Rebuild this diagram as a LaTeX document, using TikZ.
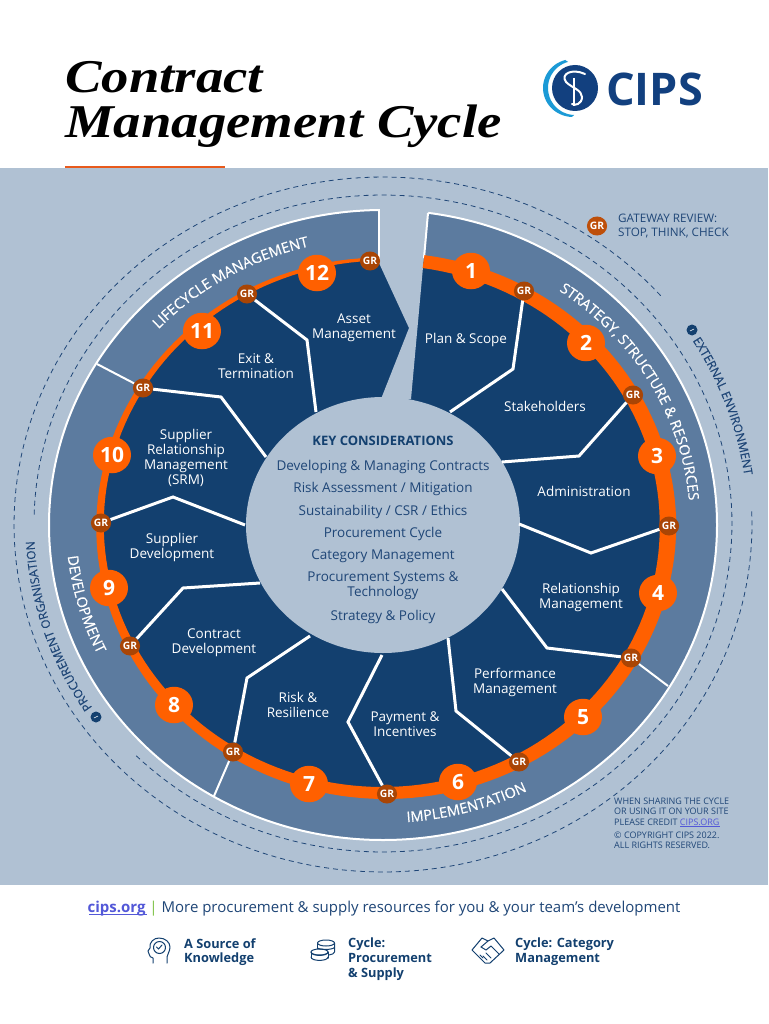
\documentclass[tikz,border=0pt]{standalone}
\usepackage{fontspec}
\setmainfont{Open Sans}
\newfontfamily\titlefont{Liberation Serif}
\newfontfamily\curvef[FakeBold=0.35]{Open Sans}
\usetikzlibrary{shapes.geometric}
\definecolor{bgc}{HTML}{B0C1D3}
\definecolor{bandc}{HTML}{5C7B9F}
\definecolor{navy}{HTML}{13406F}
\definecolor{ink}{HTML}{1F4677}
\definecolor{orng}{HTML}{FF6000}
\definecolor{grc}{HTML}{A94505}
\definecolor{grleg}{HTML}{BE4F0A}
\definecolor{linkc}{HTML}{5358D8}
\definecolor{rulec}{HTML}{E85A1C}
\definecolor{greenc}{HTML}{7CC142}
\definecolor{skyc}{HTML}{1B9AD6}
\definecolor{logoc}{HTML}{12407F}
\tikzset{
  numc/.style={ellipse,fill=orng,text=white,font=\bfseries\fontsize{21}{21}\selectfont,minimum width=38pt,minimum height=36.5pt,inner sep=0pt},
  grn/.style={ellipse,fill=grc,text=white,font=\bfseries\fontsize{10.3}{10.3}\selectfont,minimum width=20pt,minimum height=19pt,inner sep=0pt},
  div/.style={draw=white,line width=3pt,line join=miter},
  thin div/.style={draw=white,line width=2pt},
  stage/.style={text=white,align=center,font=\fontsize{13.5}{15}\selectfont,yshift=-2pt},
  keyc/.style={text=ink,align=center,font=\fontsize{13.5}{15}\selectfont,yshift=-1.5pt},
  foot/.style={text=navy,align=left,anchor=north west,inner sep=0pt,font=\bfseries\fontsize{12.8}{14.6}\selectfont},
  ico/.style={draw=navy,line width=1pt,line join=round,line cap=round,fill=none},
  dashr/.style={draw=ink,line width=0.8pt,dash pattern=on 5pt off 4pt},
  declare function={wd(\t)=\t>=0 ? 13+(82-\t)*3.5/82 : 16.5+\t*0.05;}
}
\newdimen\ltw
% name, font+colour, cx, cy, rx, ry, start angle, direction, letters
\newcommand{\curvetext}[9]{%
  \xdef\curT{#7}%
  \foreach \c [count=\i] in {#9}{%
    \setbox0=\hbox{\pgfinterruptpicture#2\c\endpgfinterruptpicture}%
    \ltw=\wd0
    \pgfmathsetmacro\hw{0.5*\ltw}%
    \pgfmathsetmacro\tm{\curT+(#8)*57.2958*\hw/veclen(#5*sin(\curT),#6*cos(\curT))}%
    \pgfmathsetmacro\tn{\tm+(#8)*57.2958*\hw/veclen(#5*sin(\tm),#6*cos(\tm))}%
    \pgfmathsetmacro\ang{atan2((#8)*#6*cos(\tm),-(#8)*#5*sin(\tm))}%
    \node[anchor=base,inner sep=0pt,rotate=\ang] (#1\i) at ({#3+#5*cos(\tm)},{#4-#6*sin(\tm)}) {#2\c};%
    \xdef\curT{\tn}%
  }%
}
\begin{document}
\begin{tikzpicture}[x=1pt,y=-1pt]
\useasboundingbox (0,0) rectangle (768,1024);
\fill[white] (0,0) rectangle (768,1024);
\fill[bgc] (0,168) rectangle (768,885);
% title
\node[anchor=base west,inner sep=0pt,xscale=1.165,font=\titlefont\bfseries\itshape\fontsize{47}{47}\selectfont] (t1) at (65,93) {Contract};
\node[anchor=base west,inner sep=0pt,xscale=1.165,font=\titlefont\bfseries\itshape\fontsize{47}{47}\selectfont] (t2) at (65,138) {Management Cycle};
\draw[rulec,line width=2pt] (65,167) -- (225,167);
% logo
\fill[skyc] plot[domain=105:268,samples=30,variable=\t] ({573+30*cos(\t)},{88-29*sin(\t)}) -- plot[domain=268:105,samples=30,variable=\t] ({575+27*cos(\t)},{88-27*sin(\t)}) -- cycle;
\fill[logoc] (575,88) ellipse [x radius=23,y radius=23];
\draw[white,line width=2pt,line cap=round] (585,74) .. controls (572,68) and (560,74) .. (566,82) .. controls (572,88) and (582,90) .. (582,97) .. controls (582,104) and (575,106) .. (572,104);
\draw[white,line width=1.5pt] (574,78) -- (574,106);
\node[anchor=west,inner sep=0pt,text=logoc,font=\bfseries\fontsize{45}{45}\selectfont] (logo) at (606,89) {CIPS};
% dashed rings
\draw[dashr] plot[domain=41.2:362.6,samples=180,variable=\t] ({383+369*cos(\t)},{524.5-347.5*sin(\t)});
\draw[dashr] plot[domain=225:538.6,samples=180,variable=\t] ({383+349*cos(\t)},{523.5-328.5*sin(\t)});
% band
\fill[bandc,draw=white,line width=2pt] (383,525) ellipse [x radius=334,y radius=315];
% blue field
\fill[navy] (384,526) ellipse [x radius=284,y radius=267];
% notch
\fill[bgc] (379,200) -- (379,263) -- (409,328) -- (381,399) -- (411,399) -- (423,267) -- (428,213) -- (428,200) -- cycle;
\draw[white,line width=2pt] (379,209) -- (379,262);
\draw[white,line width=2pt] (428,213) -- (424,258);
% centre disc
\fill[bgc] (383,525) ellipse [x radius=137,y radius=128];
% orange ring
\fill[orng] plot[domain=82:-267,samples=175,variable=\t] ({384+(284+wd(\t)/2)*cos(\t)},{526-(267+wd(\t)/2)*sin(\t)})
  -- plot[domain=-267:82,samples=175,variable=\t] ({384+(284-wd(\t)/2)*cos(\t)},{526-(267-wd(\t)/2)*sin(\t)}) -- cycle;
% gateway nodes
\foreach \n/\x/\y in {1/524/291,2/633/395,3/669/526,4/631/658,5/519/762,6/387/794,7/233/752,8/130/646,9/101/523,10/143/388,11/247/294,12/370/261}
  \node[grn] (g\n) at (\x,\y) {GR};
% number nodes
\foreach \n/\x/\y in {1/471/271,2/586/343,3/657/456,4/658/593,5/583/717,6/458/782,7/309/784,8/174/705,9/109/588,10/112/455,11/202/331,12/317/273}
  \node[numc] (n\n) at (\x,\y) {\n};
% bends and inner ends
\foreach \n/\ax/\ay/\bx/\by in {1/513/369/450/412,2/579/456/502/462,3/591/553/519/524,4/547/648/502/589,5/456/711/448/638,6/348/722/382/655,7/247/678/310/636,8/183/588/260/583,9/173/497/245/525,10/221/397/266/457,11/307/340/316/412}{
  \coordinate (b\n) at (\ax,\ay);
  \coordinate (e\n) at (\bx,\by);
  \draw[div] (g\n) -- (b\n) -- (e\n);
}
% band dividers
\coordinate (o4) at (668,686);
\coordinate (o7) at (214,796);
\coordinate (o10) at (97,364);
\draw[thin div] (g4) -- (o4);
\draw[thin div] (g7) -- (o7);
\draw[thin div] (g10) -- (o10);
% stage labels
\node[stage] (s1) at (466,338) {Plan \& Scope};
\node[stage] (s2) at (545,404.5) {Stakeholders};
\node[stage] (s3) at (584,489) {Administration};
\node[stage] (s4) at (581,595) {Relationship\\Management};
\node[stage] (s5) at (515,680) {Performance\\Management};
\node[stage] (s6) at (405,722) {Payment \&\\Incentives};
\node[stage] (s7) at (298,703) {Risk \&\\Resilience};
\node[stage] (s8) at (214,641) {Contract\\Development};
\node[stage] (s9) at (172,545) {Supplier\\Development};
\node[stage] (s10) at (186,456) {Supplier\\Relationship\\Management\\(SRM)};
\node[stage] (s11) at (256,364) {Exit \&\\Termination};
\node[stage] (s12) at (354,326) {Asset\\Management};
% key considerations
\node[keyc,font=\bfseries\fontsize{13}{15}\selectfont,text=navy] (k0) at (383,439.5) {KEY CONSIDERATIONS};
\node[keyc] (k1) at (383,465) {Developing \& Managing Contracts};
\node[keyc] (k2) at (383,487) {Risk Assessment / Mitigation};
\node[keyc] (k3) at (383,510) {Sustainability / CSR / Ethics};
\node[keyc] (k4) at (383,532) {Procurement Cycle};
\node[keyc] (k5) at (383,555) {Category Management};
\node[keyc] (k6) at (383,584) {Procurement Systems \&\\Technology};
\node[keyc] (k7) at (383,615) {Strategy \& Policy};
% curved labels
\def\bandfont{\color{white}\curvef\fontsize{14.5}{14.5}\selectfont}
\def\ringfont{\color{ink}\curvef\fontsize{12}{12}\selectfont}
\curvetext{ca}{\bandfont}{383}{525}{307}{286}{55}{-1}{S,T,R,A,T,E,G,Y,{,},~,S,T,R,U,C,T,U,R,E,~,\&,~,R,E,S,O,U,R,C,E,S}
\curvetext{cb}{\bandfont}{383}{525}{307}{287}{137}{-1}{L,I,F,E,C,Y,C,L,E,~,M,A,N,A,G,E,M,E,N,T}
\curvetext{cc}{\bandfont}{383}{525}{320}{298}{-85.7}{1}{I,M,P,L,E,M,E,N,T,A,T,I,O,N}
\curvetext{cd}{\bandfont}{383}{525}{317}{298}{186}{1}{D,E,V,E,L,O,P,M,E,N,T}
\curvetext{ce}{\ringfont}{383}{525}{365}{348}{32}{-1}{E,X,T,E,R,N,A,L,~,E,N,V,I,R,O,N,M,E,N,T}
\curvetext{cf}{\ringfont}{383}{525}{349}{330}{213.6}{-1}{P,R,O,C,U,R,E,M,E,N,T,~,O,R,G,A,N,I,S,A,T,I,O,N}
% info dots
\node[circle,fill=navy,minimum size=11pt,inner sep=0pt] (d1) at (692,330) {};
\draw[white,line width=0.5pt] (d1.center) ++(-2,1) -- ++(4,-2);
\node[circle,fill=navy,minimum size=11pt,inner sep=0pt] (d2) at (96,717) {};
\draw[white,line width=0.5pt] (d2.center) ++(-2,1) -- ++(4,-2);
% legend
\node[grn,fill=grleg] (lg) at (597,226) {GR};
\node[anchor=west,inner sep=0pt,text=ink,align=left,font=\fontsize{11.7}{14}\selectfont] (lt) at (618,226) {GATEWAY REVIEW:\\STOP, THINK, CHECK};
% credit
\node[anchor=north west,inner sep=0pt,text=ink,align=left,font=\fontsize{9}{10.2}\selectfont] (cr) at (614,798) {WHEN SHARING THE CYCLE\\OR USING IT ON YOUR SITE\\PLEASE CREDIT \textcolor{linkc}{CIPS.ORG}};
\draw[linkc,line width=0.5pt] (680,826.5) -- (720,826.5);
\node[anchor=north west,inner sep=0pt,text=ink,align=left,font=\fontsize{9}{10.2}\selectfont] (cp) at (614,832) {© COPYRIGHT CIPS 2022.\\ALL RIGHTS RESERVED.};
% footer
\node[inner sep=0pt,text=ink,font=\fontsize{15}{15}\selectfont] (ft) at (384,909) {\textcolor{linkc}{\bfseries cips.org} \textcolor{greenc}{|} More procurement \& supply resources for you \& your team’s development};
\draw[linkc,line width=1pt] (89,914.5) -- (147,914.5);
\node[foot] (f1) at (184,938) {A Source of\\Knowledge};
\node[foot] (f2) at (348,938) {Cycle:\\Procurement\\\& Supply};
\node[foot] (f3) at (515,938) {Cycle: Category\\Management};
% head icon
\draw[ico] (153,963) -- (153,958) .. controls (148,957) and (150,953) .. (148,951) -- (150,948) .. controls (149,942) and (154,938) .. (159,938) .. controls (165,938) and (170,942) .. (170,947) .. controls (170,952) and (167,954) .. (167,957) -- (167,963);
\draw[ico] (159.5,947.5) circle [radius=6];
\draw[ico] (156.5,947) -- (158.5,949) -- (162,945);
% coins icon
\foreach \y in {952,957}{\draw[ico] (311,\y) .. controls (311,\y+4.5) and (328,\y+4.5) .. (328,\y);}
\draw[ico] (319.5,952) ellipse [x radius=8.5,y radius=3];
\draw[ico] (311,952) -- (311,958);\draw[ico] (328,952) -- (328,958);
\draw[ico] (326,943) ellipse [x radius=8.5,y radius=3];
\draw[ico] (334.5,943) -- (334.5,952) .. controls (334.5,953.5) and (332,954.5) .. (329,955);
\draw[ico] (317.5,943) -- (317.5,948.5);
\draw[ico] (317.5,948) .. controls (320,950) and (332,950) .. (334.5,947.5);
% handshake icon
\draw[ico] (472,950) -- (482,938) -- (488,941) -- (494,938) -- (504,950) -- (490,963) -- (485,963) -- cycle;
\draw[ico] (481,947) -- (488,941);
\draw[ico] (481,947) -- (486,950) -- (491,946) -- (499,954);
\draw[ico] (483,958) -- (480,955);\draw[ico] (487,960) -- (483,956);\draw[ico] (491,958) -- (486,953);
\end{tikzpicture}
\end{document}
